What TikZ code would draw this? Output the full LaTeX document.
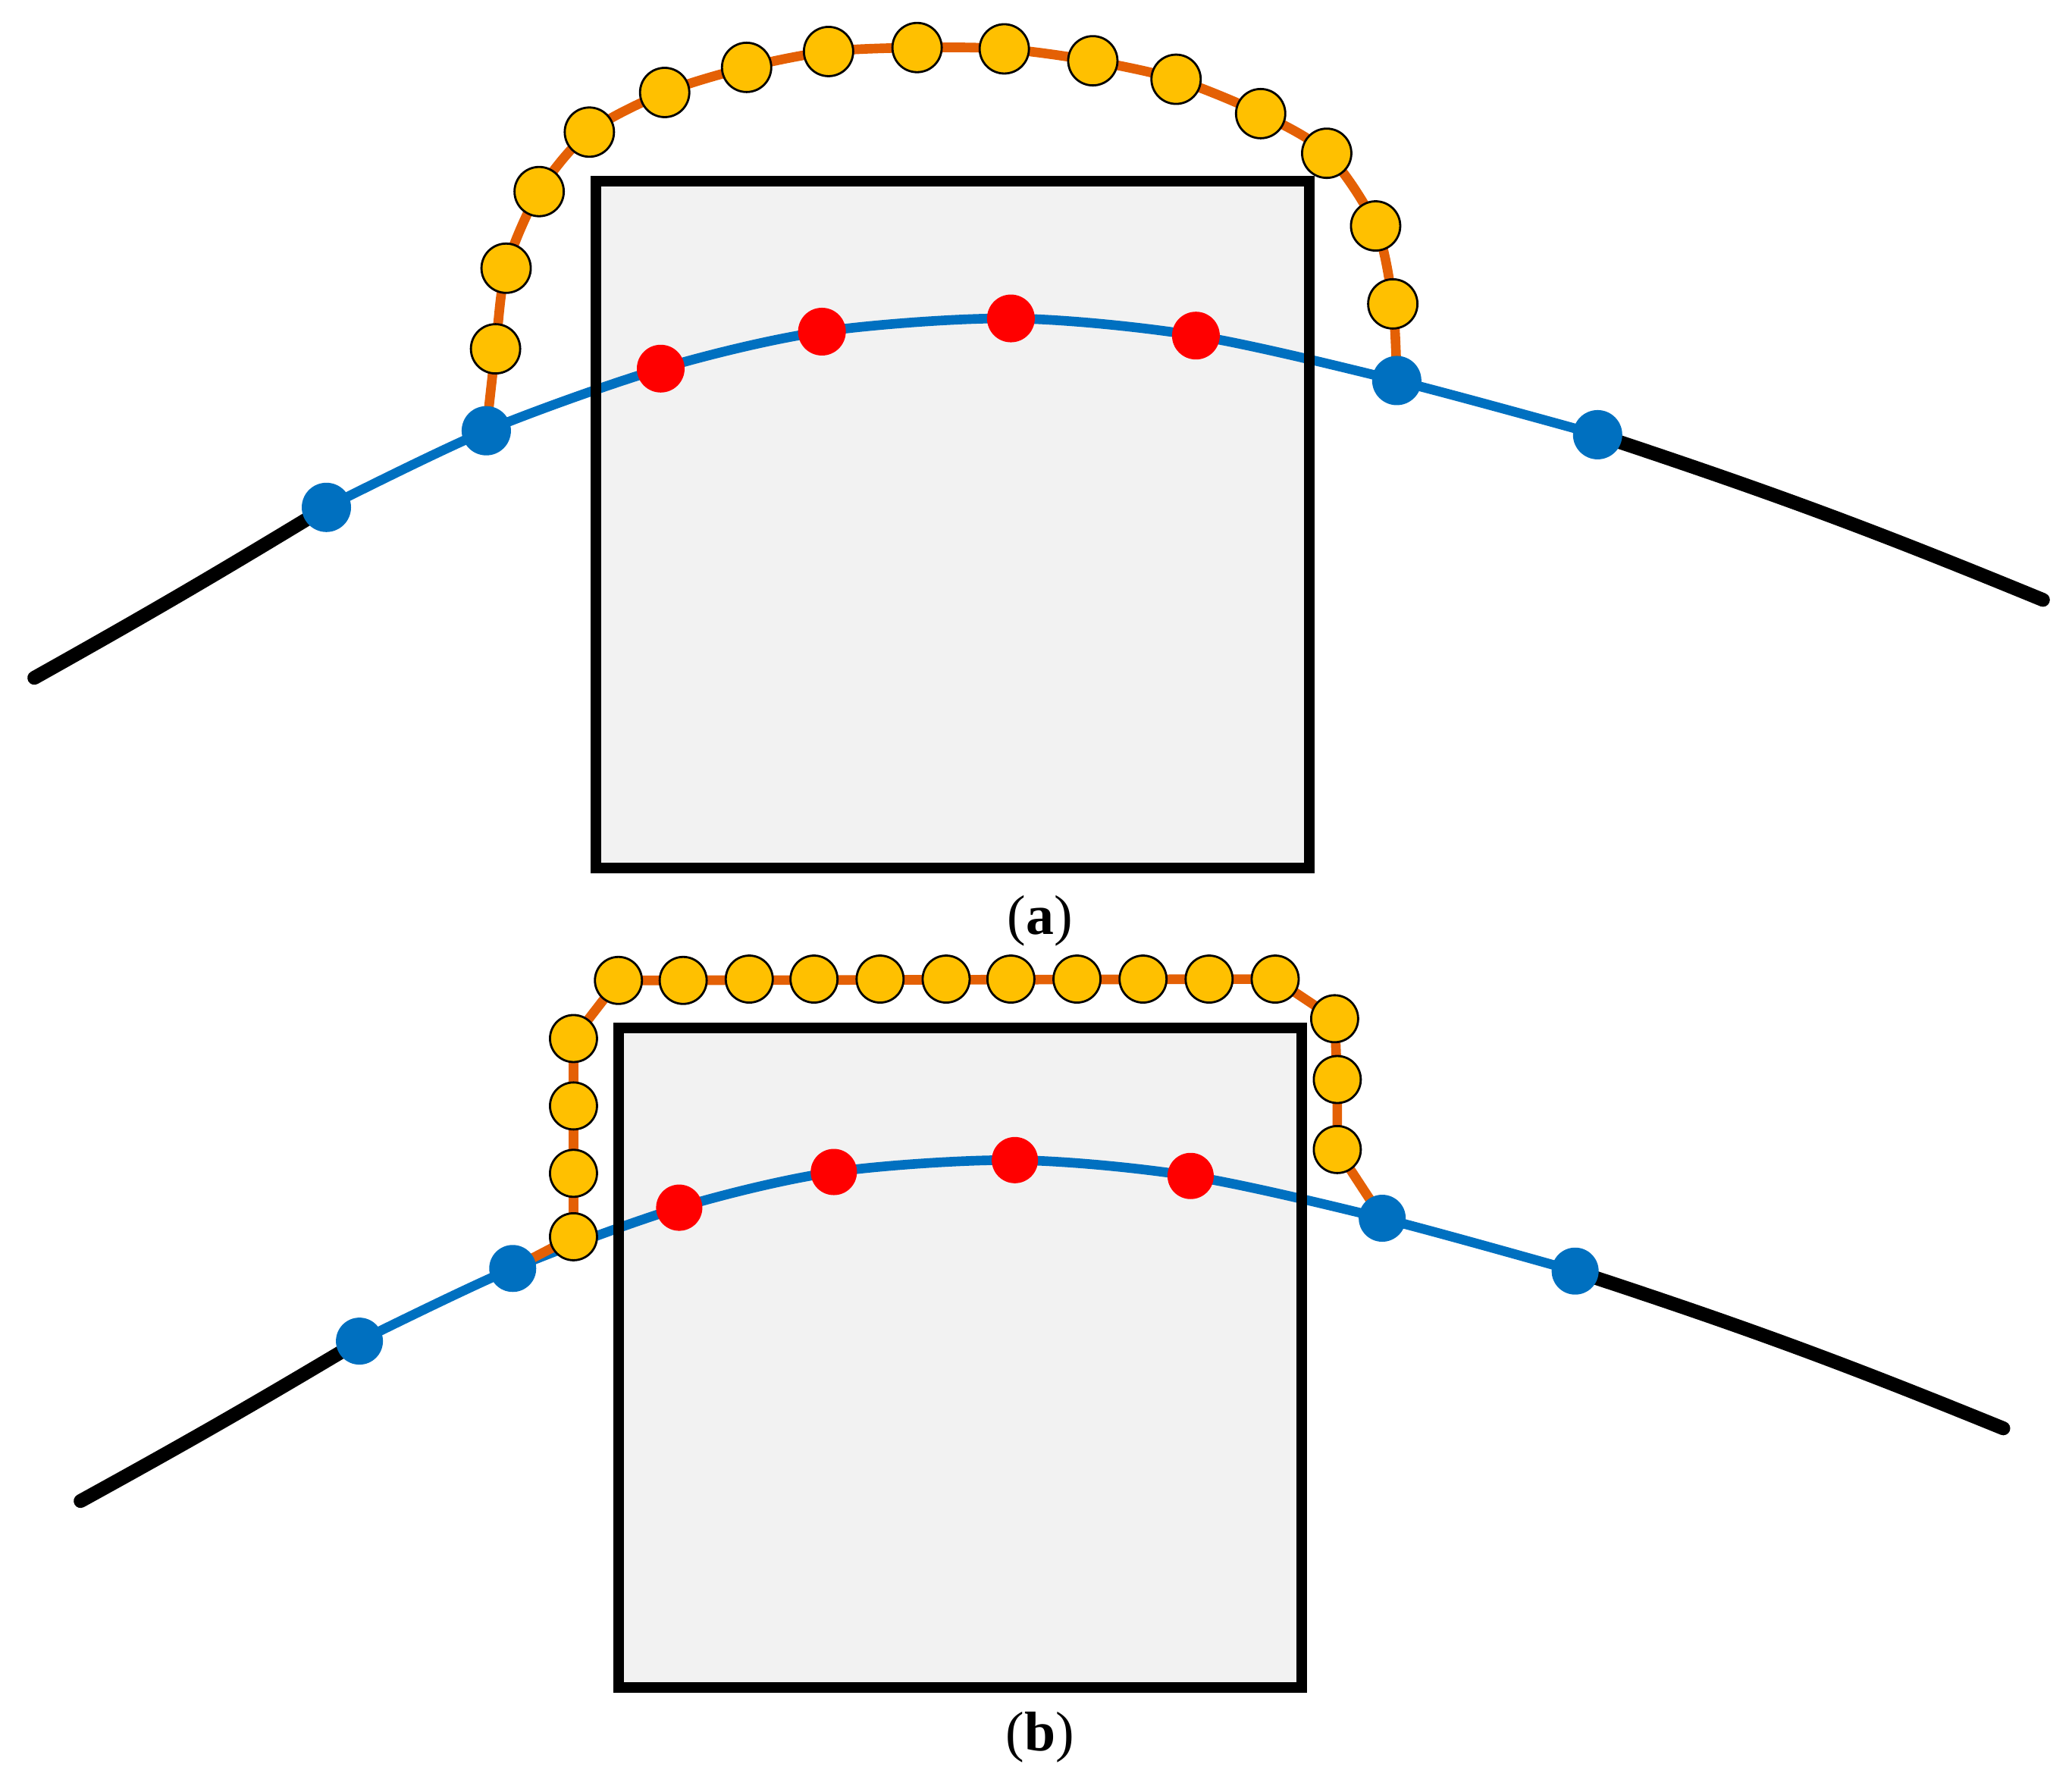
\documentclass[tikz,border=0pt]{standalone}
\usepackage{xcolor}
\usepackage{fontspec}
\setmainfont{Liberation Serif}
\usepackage{tikz}
\usetikzlibrary{backgrounds}
\definecolor{beadyellow}{HTML}{FFC000}
\definecolor{wireorange}{HTML}{E46005}
\definecolor{wireblue}{HTML}{0070C0}
\definecolor{panelgray}{HTML}{F2F2F2}
\tikzset{
x=0.1743mm, y=-0.1743mm, % one unit is one pixel of the small view
panel/.style={draw, line width=4pt, inner sep=0pt}, % the black squares
bead/.style={circle, draw, fill=beadyellow, line width=0.8pt, inner sep=0pt}, % the yellow dots
bluedot/.style={circle, fill=wireblue, inner sep=0pt}, % the blue dots
reddot/.style={circle, fill=red, inner sep=0pt}, % the red dots
blackline/.style={line width=5.2pt, line cap=round},
blueline/.style={wireblue, line width=3.6pt},
orangeline/.style={wireorange, line width=3.6pt, line join=round},
caption/.style={font=\fontsize{21}{24}\selectfont},
}

\begin{document}
\begin{tikzpicture}
        \useasboundingbox (0,0) rectangle (1568,1349);

        % upper picture
        \node[panel, minimum width=9.41cm, minimum height=9.06cm] (boxa) at (721,397) {};
        \foreach \i/\x/\y in {1/247/384, 2/368/326, 3/1057/288, 4/1209/329}
            \node[bluedot, minimum size=6.5mm] (ba\i) at (\x,\y) {};
        \foreach \i/\x/\y in {1/500/279, 2/622/251, 3/765/241, 4/905/254}
            \node[reddot, minimum size=6.3mm] (ra\i) at (\x,\y) {};
        \foreach \i/\x/\y in {1/375/264, 2/383/203, 3/408/145, 4/446/100, 5/503/70, 6/565/51, 7/627/39, 8/694/36,
                              9/760/37, 10/827/46, 11/890/60, 12/954/86, 13/1004/116, 14/1041/171, 15/1054/230}
            \node[bead, minimum size=6.5mm] (ya\i) at (\x,\y) {};
        \coordinate (enda1) at (26,513);
        \coordinate (enda2) at (1546,454);
        \node[caption] (capa) at (787,697) {(\textbf{a})};

        % lower picture
        \node[panel, minimum width=9.01cm, minimum height=8.70cm] (boxb) at (726.5,1027.5) {};
        \foreach \i/\x/\y in {1/272/1015, 2/388/960, 3/1046/922, 4/1192/962}
            \node[bluedot, minimum size=6.2mm] (bb\i) at (\x,\y) {};
        \foreach \i/\x/\y in {1/514/914, 2/631/887, 3/768/878, 4/901/890}
            \node[reddot, minimum size=6.1mm] (rb\i) at (\x,\y) {};
        \foreach \i/\x/\y in {1/434/936, 2/434/888, 3/434/837, 4/434/786,
                              5/468/742, 6/517/742, 7/567/741, 8/616/741, 9/666/741, 10/716/741,
                              11/765/741, 12/815/741, 13/865/741, 14/915/741, 15/965/741,
                              16/1010/771, 17/1012/817, 18/1012/870}
            \node[bead, minimum size=6.2mm] (yb\i) at (\x,\y) {};
        \coordinate (endb1) at (61,1136);
        \coordinate (endb2) at (1516,1081);
        \node[caption] (capb) at (787,1315) {(\textbf{b})};

        \begin{scope}[on background layer]
            \fill[panelgray] (boxa.north west) rectangle (boxa.south east);
            \fill[panelgray] (boxb.north west) rectangle (boxb.south east);

            \draw[blackline] (enda1) to[bend right=1] (ba1.center);
            \draw[blackline] (ba4.center) to[bend left=2] (enda2);
            \draw[blueline] plot[smooth] coordinates {(ba1.center) (ba2.center) (ra1.center) (ra2.center)
                (ra3.center) (ra4.center) (ba3.center) (ba4.center)};
            \draw[orangeline] plot[smooth] coordinates {(ba2.center) (ya1.center) (ya2.center) (ya3.center)
                (ya4.center) (ya5.center) (ya6.center) (ya7.center) (ya8.center) (ya9.center) (ya10.center)
                (ya11.center) (ya12.center) (ya13.center) (ya14.center) (ya15.center) (ba3.center)};

            \draw[blackline] (endb1) to[bend right=1] (bb1.center);
            \draw[blackline] (bb4.center) to[bend left=2] (endb2);
            \draw[blueline] plot[smooth] coordinates {(bb1.center) (bb2.center) (rb1.center) (rb2.center)
                (rb3.center) (rb4.center) (bb3.center) (bb4.center)};
            \draw[orangeline] (bb2.center) -- (yb1.center) -- (yb4.center) -- (yb5.center) -- (yb15.center)
                -- (yb16.center) -- (yb17.center) -- (yb18.center) -- (bb3.center);
        \end{scope}
    \end{tikzpicture}
\end{document}
